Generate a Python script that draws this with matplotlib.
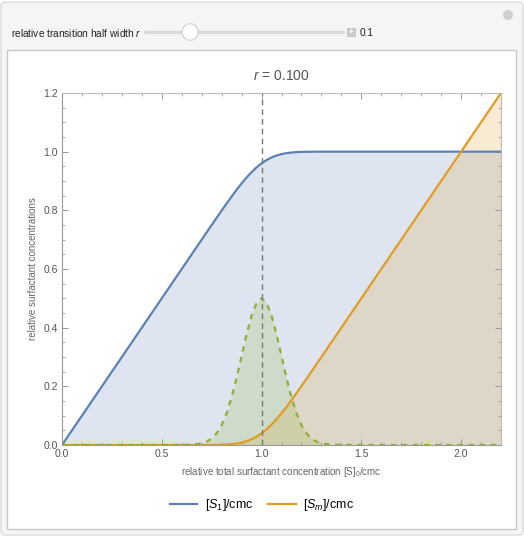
import matplotlib.pyplot as plt
from matplotlib.patches import FancyBboxPatch, Rectangle, Circle
from matplotlib.lines import Line2D

plt.rcParams['font.family'] = ['Liberation Sans', 'DejaVu Sans']
plt.rcParams['mathtext.fontset'] = 'custom'
plt.rcParams['mathtext.rm'] = 'Liberation Sans'
plt.rcParams['mathtext.it'] = 'Liberation Sans:italic'

# values (r = 0.1)
conc = [0.0, 0.5, 0.65, 0.70, 0.725, 0.75, 0.775, 0.80, 0.825, 0.85, 0.875,
        0.90, 0.925, 0.95, 0.975, 1.00, 1.025, 1.05, 1.075, 1.10, 1.125,
        1.15, 1.175, 1.20, 1.225, 1.25, 1.275, 1.30, 1.35, 1.5, 2.0, 2.2]
s1 = [0.0, 0.5, 0.65, 0.70, 0.7249, 0.7498, 0.7746, 0.7992, 0.8234, 0.8471,
      0.8699, 0.8917, 0.9119, 0.9302, 0.9464, 0.9601, 0.9714, 0.9802, 0.9869,
      0.9917, 0.9949, 0.9971, 0.9984, 0.9992, 0.9996, 0.9998, 0.9999, 1.0,
      1.0, 1.0, 1.0, 1.0]
sm = [0.0, 0.0, 0.0, 0.0, 0.0001, 0.0002, 0.0004, 0.0008, 0.0016, 0.0029,
      0.0051, 0.0083, 0.0131, 0.0198, 0.0286, 0.0399, 0.0536, 0.0698, 0.0881,
      0.1083, 0.1301, 0.1529, 0.1766, 0.2008, 0.2254, 0.2502, 0.2751, 0.30,
      0.35, 0.5, 1.0, 1.2]
peak = [0.0, 0.0, 0.0011, 0.0056, 0.0114, 0.0219, 0.0398, 0.0677, 0.1082,
        0.1623, 0.2289, 0.3033, 0.3774, 0.4412, 0.4846, 0.5, 0.4846, 0.4412,
        0.3774, 0.3033, 0.2289, 0.1623, 0.1082, 0.0677, 0.0398, 0.0219,
        0.0114, 0.0056, 0.0011, 0.0, 0.0, 0.0]
r_value = 0.1
cmc_mark = 1.0

W, H = 524, 537
fig = plt.figure(figsize=(W / 100, H / 100), dpi=100)
fig.patch.set_facecolor('white')


def fx(px):
    return px / W


def fy(py):
    return 1 - py / H


# outer gray panel + inner white panel (behind the axes)
fig.patches.append(FancyBboxPatch((fx(1), fy(535)), fx(522), 533 / H,
                                  boxstyle='round,pad=0,rounding_size=0.008',
                                  transform=fig.transFigure, facecolor='#f5f5f5',
                                  edgecolor='#dcdcdc', lw=1, zorder=-3))
fig.patches.append(Rectangle((fx(7), fy(529)), fx(509), 479 / H,
                             transform=fig.transFigure, facecolor='white',
                             edgecolor='#c8c8c8', lw=1, zorder=-2))

# slider controls
fig.text(fx(11), fy(33), 'relative transition half width $r$', fontsize=7.3,
         va='center', ha='left', color='#222222')
fig.add_artist(Line2D([fx(145), fx(343)], [fy(32), fy(32)],
                      transform=fig.transFigure, color='#dadada', lw=2.5,
                      solid_capstyle='round', zorder=2))
fig.add_artist(Circle((fx(190), fy(32)), 8 / W, transform=fig.transFigure,
                      facecolor='white', edgecolor='#cfcfcf', lw=0.8,
                      zorder=3))
fig.add_artist(Rectangle((fx(347), fy(36)), 8 / W, 8 / H,
                         transform=fig.transFigure, facecolor='#cccccc',
                         edgecolor='#b5b5b5', lw=0.5, zorder=3))
fig.text(fx(351), fy(32.5), '+', fontsize=6, color='white', ha='center',
         va='center', fontweight='bold', zorder=4)
fig.text(fx(360), fy(33), '0.1', fontsize=7.3, va='center', color='#222222')
fig.add_artist(Circle((fx(508), fy(15)), 5 / W, transform=fig.transFigure,
                      facecolor='#d0d0d0', edgecolor='none', zorder=3))

ax = fig.add_axes([fx(62), fy(445), (501 - 62) / W, (445 - 93) / H])
ax.set_facecolor('white')

blue = '#5e81b5'
orange = '#e19c24'
green = '#8fb032'

ax.fill_between(conc, 0, s1, color=blue, alpha=0.2, lw=0)
ax.fill_between(conc, 0, sm, color=orange, alpha=0.2, lw=0)
ax.fill_between(conc, 0, peak, color=green, alpha=0.2, lw=0)
ax.plot(conc, s1, color=blue, lw=1.6, label='[$S_1$]/cmc')
ax.plot(conc, sm, color=orange, lw=1.6, label='[$S_m$]/cmc')
ax.plot(conc, peak, color=green, lw=1.6, ls=(0, (2.5, 2.5)))
ax.axvline(cmc_mark, color='#777777', lw=1, ls=(0, (4, 3)))

ax.set_xlim(0, 2.2)
ax.set_ylim(0, 1.2)
ax.set_xticks([0.0, 0.5, 1.0, 1.5, 2.0])
ax.set_xticks([i / 10 for i in range(23)], minor=True)
ax.set_yticks([0.0, 0.2, 0.4, 0.6, 0.8, 1.0, 1.2])
ax.set_yticks([i / 20 for i in range(25)], minor=True)
ax.xaxis.set_major_formatter(lambda v, p: f'{v:.1f}')
ax.yaxis.set_major_formatter(lambda v, p: f'{v:.1f}')
ax.tick_params(which='both', direction='in', top=True, right=True,
               color='#999999', labelcolor='#555555', labelsize=7.5, pad=3)
ax.tick_params(which='major', length=4, width=0.7)
ax.tick_params(which='minor', length=2.2, width=0.6)
for side in ['left', 'bottom']:
    ax.spines[side].set_color('#999999')
for side in ['top', 'right']:
    ax.spines[side].set_color('#bbbbbb')

ax.set_title(f'$r$ = {r_value:.3f}', fontsize=10, color='#555555', pad=9)
ax.set_xlabel('relative total surfactant concentration [S]$_0$/cmc',
              fontsize=7, color='#666666', labelpad=4)
ax.set_ylabel('relative surfactant concentrations', fontsize=7,
              color='#666666', labelpad=4)

handles, labels = ax.get_legend_handles_labels()
fig.legend(handles, labels, loc='center', bbox_to_anchor=(fx(262), fy(505)),
           ncol=2, frameon=False, fontsize=9, handlelength=2.2,
           columnspacing=1.2, handletextpad=0.6)

fig.savefig('out.png', dpi=100)
